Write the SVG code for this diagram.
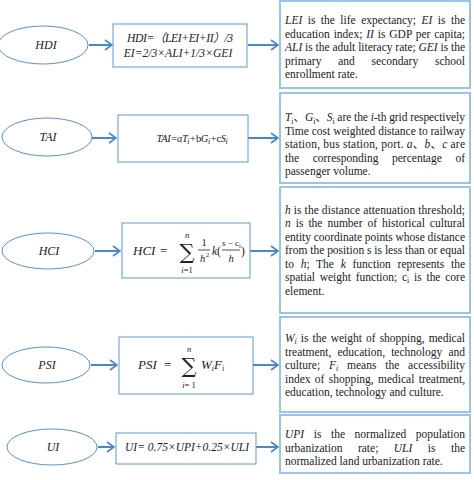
<svg xmlns="http://www.w3.org/2000/svg" width="474" height="480" viewBox="0 0 474 480">
<defs>
<marker id="ah" markerWidth="10" markerHeight="12" refX="8" refY="6" orient="auto" markerUnits="userSpaceOnUse">
<path d="M1,1 L8,6 L1,11" fill="none" stroke="#4a86c8" stroke-width="1.6"/>
</marker>
</defs>
<style>
.ell{fill:#fff;stroke:#5a8fd0;stroke-width:1}
.fbox{fill:#fff;stroke:#5b9bd5;stroke-width:1}
.dbox{fill:#fff;stroke:#9cc3e8;stroke-width:2}
#connectors line{stroke:#4a86c8;stroke-width:2;marker-end:url(#ah)}
text{font-family:"Liberation Serif","Times New Roman","DejaVu Serif","Noto Sans CJK SC",serif;fill:#222}
.lbl{font-size:12px;font-style:italic;text-anchor:middle}
.f{font-size:11.6px;font-style:italic;text-anchor:middle}
.d{font-size:11.5px}
.it{font-style:italic}
.sub{font-size:8px}
.m{font-size:13px}
.sig{font-size:21px;text-anchor:middle;font-family:"DejaVu Serif","Liberation Serif",serif}
.sm{font-size:8.5px;text-anchor:middle}
</style>
<rect width="474" height="480" fill="#fff"/>

<g id="connectors">
<line x1="89" y1="45" x2="112" y2="45"/>
<line x1="248" y1="45" x2="278" y2="45"/>
<line x1="92" y1="138" x2="116" y2="138"/>
<line x1="248" y1="138" x2="278" y2="138"/>
<line x1="95" y1="251" x2="120" y2="251"/>
<line x1="250" y1="251" x2="278" y2="251"/>
<line x1="91" y1="365" x2="117" y2="365"/>
<line x1="253" y1="365" x2="278" y2="365"/>
<line x1="98" y1="447" x2="114" y2="447"/>
<line x1="256" y1="447" x2="278" y2="447"/>
</g>

<!-- HDI row -->
<g id="hdi">
<ellipse class="ell" cx="43" cy="45" rx="45" ry="19"/>
<text class="lbl" x="46" y="49">HDI</text>
</g>
<g id="hdi-formula">
<rect class="fbox" x="113" y="24" width="134" height="43"/>
<text class="f" x="180" y="42" textLength="106" lengthAdjust="spacing">HDI=（LEI+EI+II）/3</text>
<text class="f" x="178" y="57">EI=2/3×ALI+1/3×GEI</text>
</g>
<g id="hdi-desc">
<rect class="dbox" x="280" y="1" width="190" height="87"/>
<text class="d" x="285" y="24" textLength="180" lengthAdjust="spacing" style="word-spacing:2.6px"><tspan class="it">LEI</tspan> is the life expectancy; <tspan class="it">EI</tspan> is the</text>
<text class="d" x="285" y="37.5" textLength="180" lengthAdjust="spacing" style="word-spacing:0.9px">education index; <tspan class="it">II</tspan> is GDP per capita;</text>
<text class="d" x="285" y="51" textLength="180" lengthAdjust="spacing"><tspan class="it">ALI</tspan> is the adult literacy rate; <tspan class="it">GEI</tspan> is the</text>
<text class="d" x="285" y="64.5" textLength="180" lengthAdjust="spacing" style="word-spacing:13.9px">primary and secondary school</text>
<text class="d" x="285" y="78">enrollment rate.</text>
</g>

<!-- TAI row -->
<g id="tai">
<ellipse class="ell" cx="47" cy="137" rx="45" ry="19"/>
<text class="lbl" x="48" y="141">TAI</text>
</g>
<g id="tai-formula">
<rect class="fbox" x="118" y="115" width="130" height="47"/>
<text x="192" y="142" font-size="10.5" font-style="italic" text-anchor="middle" letter-spacing="-0.4">TAI=aT<tspan class="sub" dy="2">i</tspan><tspan dy="-2">+</tspan><tspan font-style="normal">b</tspan>G<tspan class="sub" dy="2">i</tspan><tspan dy="-2">+</tspan><tspan font-style="normal">c</tspan>S<tspan class="sub" dy="2">i</tspan></text>
</g>
<g id="tai-desc">
<rect class="dbox" x="280" y="93" width="190" height="90"/>
<text class="d" x="285" y="121" textLength="180" lengthAdjust="spacing"><tspan class="it">T</tspan><tspan class="sub" dy="2.5">i</tspan><tspan dy="-2.5">、</tspan><tspan class="it">G</tspan><tspan class="sub" dy="2.5">i</tspan><tspan dy="-2.5">、</tspan><tspan class="it">S</tspan><tspan class="sub" dy="2.5">i</tspan><tspan dy="-2.5"> are the </tspan><tspan class="it">i</tspan>-th grid respectively</text>
<text class="d" x="285" y="134.5" textLength="180" lengthAdjust="spacing">Time cost weighted distance to railway</text>
<text class="d" x="285" y="148" textLength="180" lengthAdjust="spacing">station, bus station, port. <tspan class="it">a</tspan>、<tspan class="it">b</tspan>、<tspan class="it">c</tspan>  are</text>
<text class="d" x="285" y="161.5" textLength="180" lengthAdjust="spacing" style="word-spacing:10.7px">the corresponding percentage of</text>
<text class="d" x="285" y="175">passenger volume.</text>
</g>

<!-- HCI row -->
<g id="hci">
<ellipse class="ell" cx="48" cy="251" rx="46" ry="18"/>
<text class="lbl" x="49" y="255">HCI</text>
</g>
<g id="hci-formula">
<rect class="fbox" x="122" y="223" width="128" height="55"/>
<text class="m it" x="133" y="255">HCI</text>
<text class="m" x="160" y="255">=</text>
<text class="sig" x="187" y="259">∑</text>
<text class="sm it" x="187" y="238">n</text>
<text class="sm" x="187" y="273"><tspan class="it">i</tspan>=1</text>
<text x="204" y="246" font-size="10.5" text-anchor="middle">1</text>
<line x1="198" y1="250" x2="210" y2="250" stroke="#222" stroke-width="0.8"/>
<text x="200" y="262" font-size="10.5" font-style="italic">h</text>
<text x="206" y="257" font-size="6.5">2</text>
<text x="212" y="255" font-size="11.5"><tspan class="it">k</tspan>(</text>
<text x="222" y="246" font-size="9"><tspan class="it">s</tspan> − c<tspan font-size="6.5" dy="2">i</tspan></text>
<line x1="222" y1="250" x2="240" y2="250" stroke="#222" stroke-width="0.8"/>
<text x="231" y="262" font-size="10.5" font-style="italic" text-anchor="middle">h</text>
<text x="241" y="255" font-size="11.5">)</text>
</g>
<g id="hci-desc">
<rect class="dbox" x="280" y="187" width="190" height="126"/>
<text class="d" x="285" y="213.5" textLength="180" lengthAdjust="spacing"><tspan class="it">h</tspan> is the distance attenuation threshold;</text>
<text class="d" x="285" y="227" textLength="180" lengthAdjust="spacing" style="word-spacing:2.1px"><tspan class="it">n</tspan> is the number of historical cultural</text>
<text class="d" x="285" y="240.5" textLength="180" lengthAdjust="spacing">entity coordinate points whose distance</text>
<text class="d" x="285" y="254" textLength="180" lengthAdjust="spacing">from the position s is less than or equal</text>
<text class="d" x="285" y="267.5" textLength="180" lengthAdjust="spacing" style="word-spacing:3.8px">to <tspan class="it">h</tspan>; The <tspan class="it">k</tspan> function represents the</text>
<text class="d" x="285" y="281" textLength="180" lengthAdjust="spacing" style="word-spacing:1.9px">spatial weight function; c<tspan class="sub" dy="2">i</tspan><tspan dy="-2"> is the core</tspan></text>
<text class="d" x="285" y="294.5">element.</text>
</g>

<!-- PSI row -->
<g id="psi">
<ellipse class="ell" cx="46" cy="365" rx="44" ry="18"/>
<text class="lbl" x="47" y="369">PSI</text>
</g>
<g id="psi-formula">
<rect class="fbox" x="119" y="337" width="134" height="57"/>
<text class="m it" x="138" y="369">PSI</text>
<text class="m" x="164" y="369">=</text>
<text class="sig" x="189" y="373">∑</text>
<text class="sm it" x="189" y="352">n</text>
<text class="sm" x="189" y="388"><tspan class="it">i</tspan>= 1</text>
<text class="m" x="201" y="369"><tspan class="it">W</tspan><tspan class="sub it" dy="2">i</tspan><tspan class="it" dy="-2">F</tspan><tspan class="sub it" dy="2">i</tspan></text>
</g>
<g id="psi-desc">
<rect class="dbox" x="280" y="317" width="190" height="95"/>
<text class="d" x="285" y="342" textLength="180" lengthAdjust="spacing" style="word-spacing:1.2px"><tspan class="it">W</tspan><tspan class="sub it" dy="2">i</tspan><tspan dy="-2"> is the weight of shopping, medical</tspan></text>
<text class="d" x="285" y="355.5" textLength="180" lengthAdjust="spacing" style="word-spacing:3.3px">treatment, education, technology and</text>
<text class="d" x="285" y="369" textLength="180" lengthAdjust="spacing" style="word-spacing:5.9px">culture; <tspan class="it">F</tspan><tspan class="sub it" dy="2">i</tspan><tspan dy="-2"> means the accessibility</tspan></text>
<text class="d" x="285" y="382.5" textLength="180" lengthAdjust="spacing" style="word-spacing:1.4px">index of shopping, medical treatment,</text>
<text class="d" x="285" y="396">education, technology and culture.</text>
</g>

<!-- UI row -->
<g id="ui">
<ellipse class="ell" cx="52" cy="447" rx="45" ry="18"/>
<text class="lbl" x="53" y="451">UI</text>
</g>
<g id="ui-formula">
<rect class="fbox" x="116" y="433" width="140" height="31"/>
<text class="f" x="187" y="451" style="font-size:11.5px">UI= 0.75×UPI+0.25×ULI</text>
</g>
<g id="ui-desc">
<rect class="dbox" x="280" y="415" width="190" height="58"/>
<text class="d" x="285" y="438" textLength="180" lengthAdjust="spacing" style="word-spacing:6.7px"><tspan class="it">UPI</tspan> is the normalized population</text>
<text class="d" x="285" y="451.5" textLength="180" lengthAdjust="spacing" style="word-spacing:12.6px">urbanization rate; <tspan class="it">ULI</tspan> is the</text>
<text class="d" x="285" y="465">normalized land urbanization rate.</text>
</g>
</svg>
